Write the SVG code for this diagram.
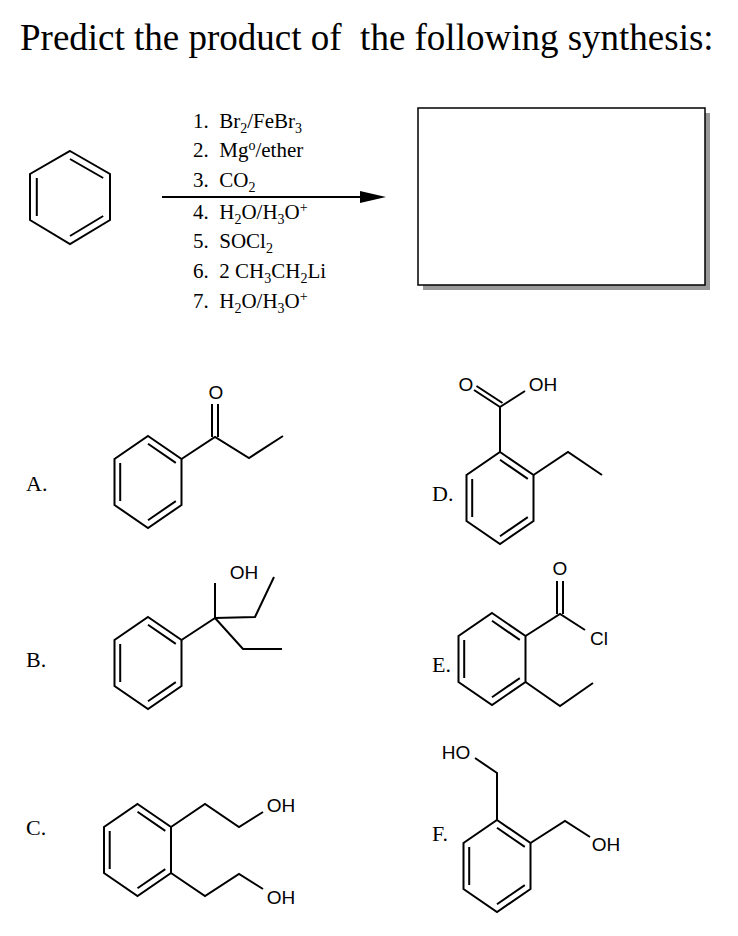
<svg xmlns="http://www.w3.org/2000/svg" width="738" height="936" viewBox="0 0 738 936">
<style>
.b{stroke:#000;stroke-width:2;fill:none;stroke-linejoin:miter}
.t{font-family:"Liberation Serif",serif;fill:#000;white-space:pre}
.r{font-family:"Liberation Serif",serif;font-size:21px;fill:#000;white-space:pre}
.s{font-size:14px}
.a{font-family:"Liberation Sans",Arial,sans-serif;font-size:19px;fill:#000;text-anchor:middle}
.l{font-family:"Liberation Serif",serif;font-size:22px;fill:#000}
</style>
<defs>
<g id="ring">
<path class="b" d="M0,0 L33.5,23 L33.5,69 L0,92 L-33.5,69 L-33.5,23 Z"/>
<path class="b" d="M0,7.8 L27.8,26.9 M-27.8,26.9 L-27.8,65.1 M27.8,65.1 L0,84.2"/>
</g>
</defs>
<rect width="738" height="936" fill="#fff"/>
<text class="t" x="20" y="50" font-size="37" xml:space="preserve">Predict the product of  the following synthesis:</text>

<g id="benzene">
<path class="b" d="M70,151 L110,174 L110,220 L70,244 L30,220 L30,174 Z"/>
<path class="b" d="M70,159 L103.2,178 M36.8,178 L36.8,216 M103.2,216 L70,236"/>
</g>

<g id="reagents">
<text class="r" x="193" y="128" xml:space="preserve">1.  Br<tspan class="s" dy="5">2</tspan><tspan dy="-5">/FeBr</tspan><tspan class="s" dy="5">3</tspan></text>
<text class="r" x="193" y="157" xml:space="preserve">2.  Mg<tspan class="s" dy="-7">o</tspan><tspan dy="7">/ether</tspan></text>
<text class="r" x="193" y="187" xml:space="preserve">3.  CO<tspan class="s" dy="5">2</tspan></text>
<text class="r" x="193" y="219" xml:space="preserve">4.  H<tspan class="s" dy="5">2</tspan><tspan dy="-5">O/H</tspan><tspan class="s" dy="5">3</tspan><tspan dy="-5">O</tspan><tspan class="s" dy="-7">+</tspan></text>
<text class="r" x="193" y="248" xml:space="preserve">5.  SOCl<tspan class="s" dy="5">2</tspan></text>
<text class="r" x="193" y="278" xml:space="preserve">6.  2 CH<tspan class="s" dy="5">3</tspan><tspan dy="-5">CH</tspan><tspan class="s" dy="5">2</tspan><tspan dy="-5">Li</tspan></text>
<text class="r" x="193" y="308" xml:space="preserve">7.  H<tspan class="s" dy="5">2</tspan><tspan dy="-5">O/H</tspan><tspan class="s" dy="5">3</tspan><tspan dy="-5">O</tspan><tspan class="s" dy="-7">+</tspan></text>
</g>

<g id="connectors">
<line class="b" x1="162" y1="197" x2="368" y2="197"/>
<polygon points="360,191 386,197 360,203" fill="#000"/>
</g>

<g id="answerbox">
<rect x="423" y="113" width="287" height="177" fill="#999"/>
<rect x="418" y="108" width="287" height="177" fill="#fff" stroke="#000" stroke-width="1.5"/>
</g>

<g id="optA">
<text class="l" x="26" y="491">A.</text>
<use href="#ring" x="148" y="436"/>
<path class="b" d="M181.5,459 L215,437 L249,458 L283,436 M212,437 L212,404 M218,437 L218,404"/>
<text class="a" x="216" y="399">O</text>
</g>

<g id="optB">
<text class="l" x="26" y="667">B.</text>
<use href="#ring" x="148" y="617"/>
<path class="b" d="M181.5,640 L215,618 L215,583 M215,618 L255,617 L274,577 M215,618 L243,649 L282,649"/>
<text class="a" x="244" y="579">OH</text>
</g>

<g id="optC">
<text class="l" x="26" y="835">C.</text>
<use href="#ring" x="137.5" y="804"/>
<path class="b" d="M171,827 L205,804 L239,827 L263,812 M171,873 L205,896 L239,874 L263,889"/>
<text class="a" x="281" y="812">OH</text>
<text class="a" x="281" y="904">OH</text>
</g>

<g id="optD">
<text class="l" x="432" y="501">D.</text>
<use href="#ring" x="500" y="452"/>
<path class="b" d="M500,452 L500,407 L525,391 M500,407 L474,390 M502.5,403 L476.5,386 M533.5,475 L568,452 L602,475"/>
<text class="a" x="466" y="391">O</text>
<text class="a" x="543" y="391">OH</text>
</g>

<g id="optE">
<text class="l" x="432" y="672">E.</text>
<use href="#ring" x="492" y="613"/>
<path class="b" d="M525.5,636 L560,614 L585,630 M557,614 L557,581 M563,614 L563,581 M525.5,682 L560,706 L593,683"/>
<text class="a" x="560" y="575">O</text>
<text class="a" x="599" y="645">Cl</text>
</g>

<g id="optF">
<text class="l" x="432" y="841">F.</text>
<use href="#ring" x="497" y="820"/>
<path class="b" d="M497,820 L497,773 L475,758 M530.5,843 L565,821 L590,837"/>
<text class="a" x="456" y="759">HO</text>
<text class="a" x="606" y="851">OH</text>
</g>
</svg>
